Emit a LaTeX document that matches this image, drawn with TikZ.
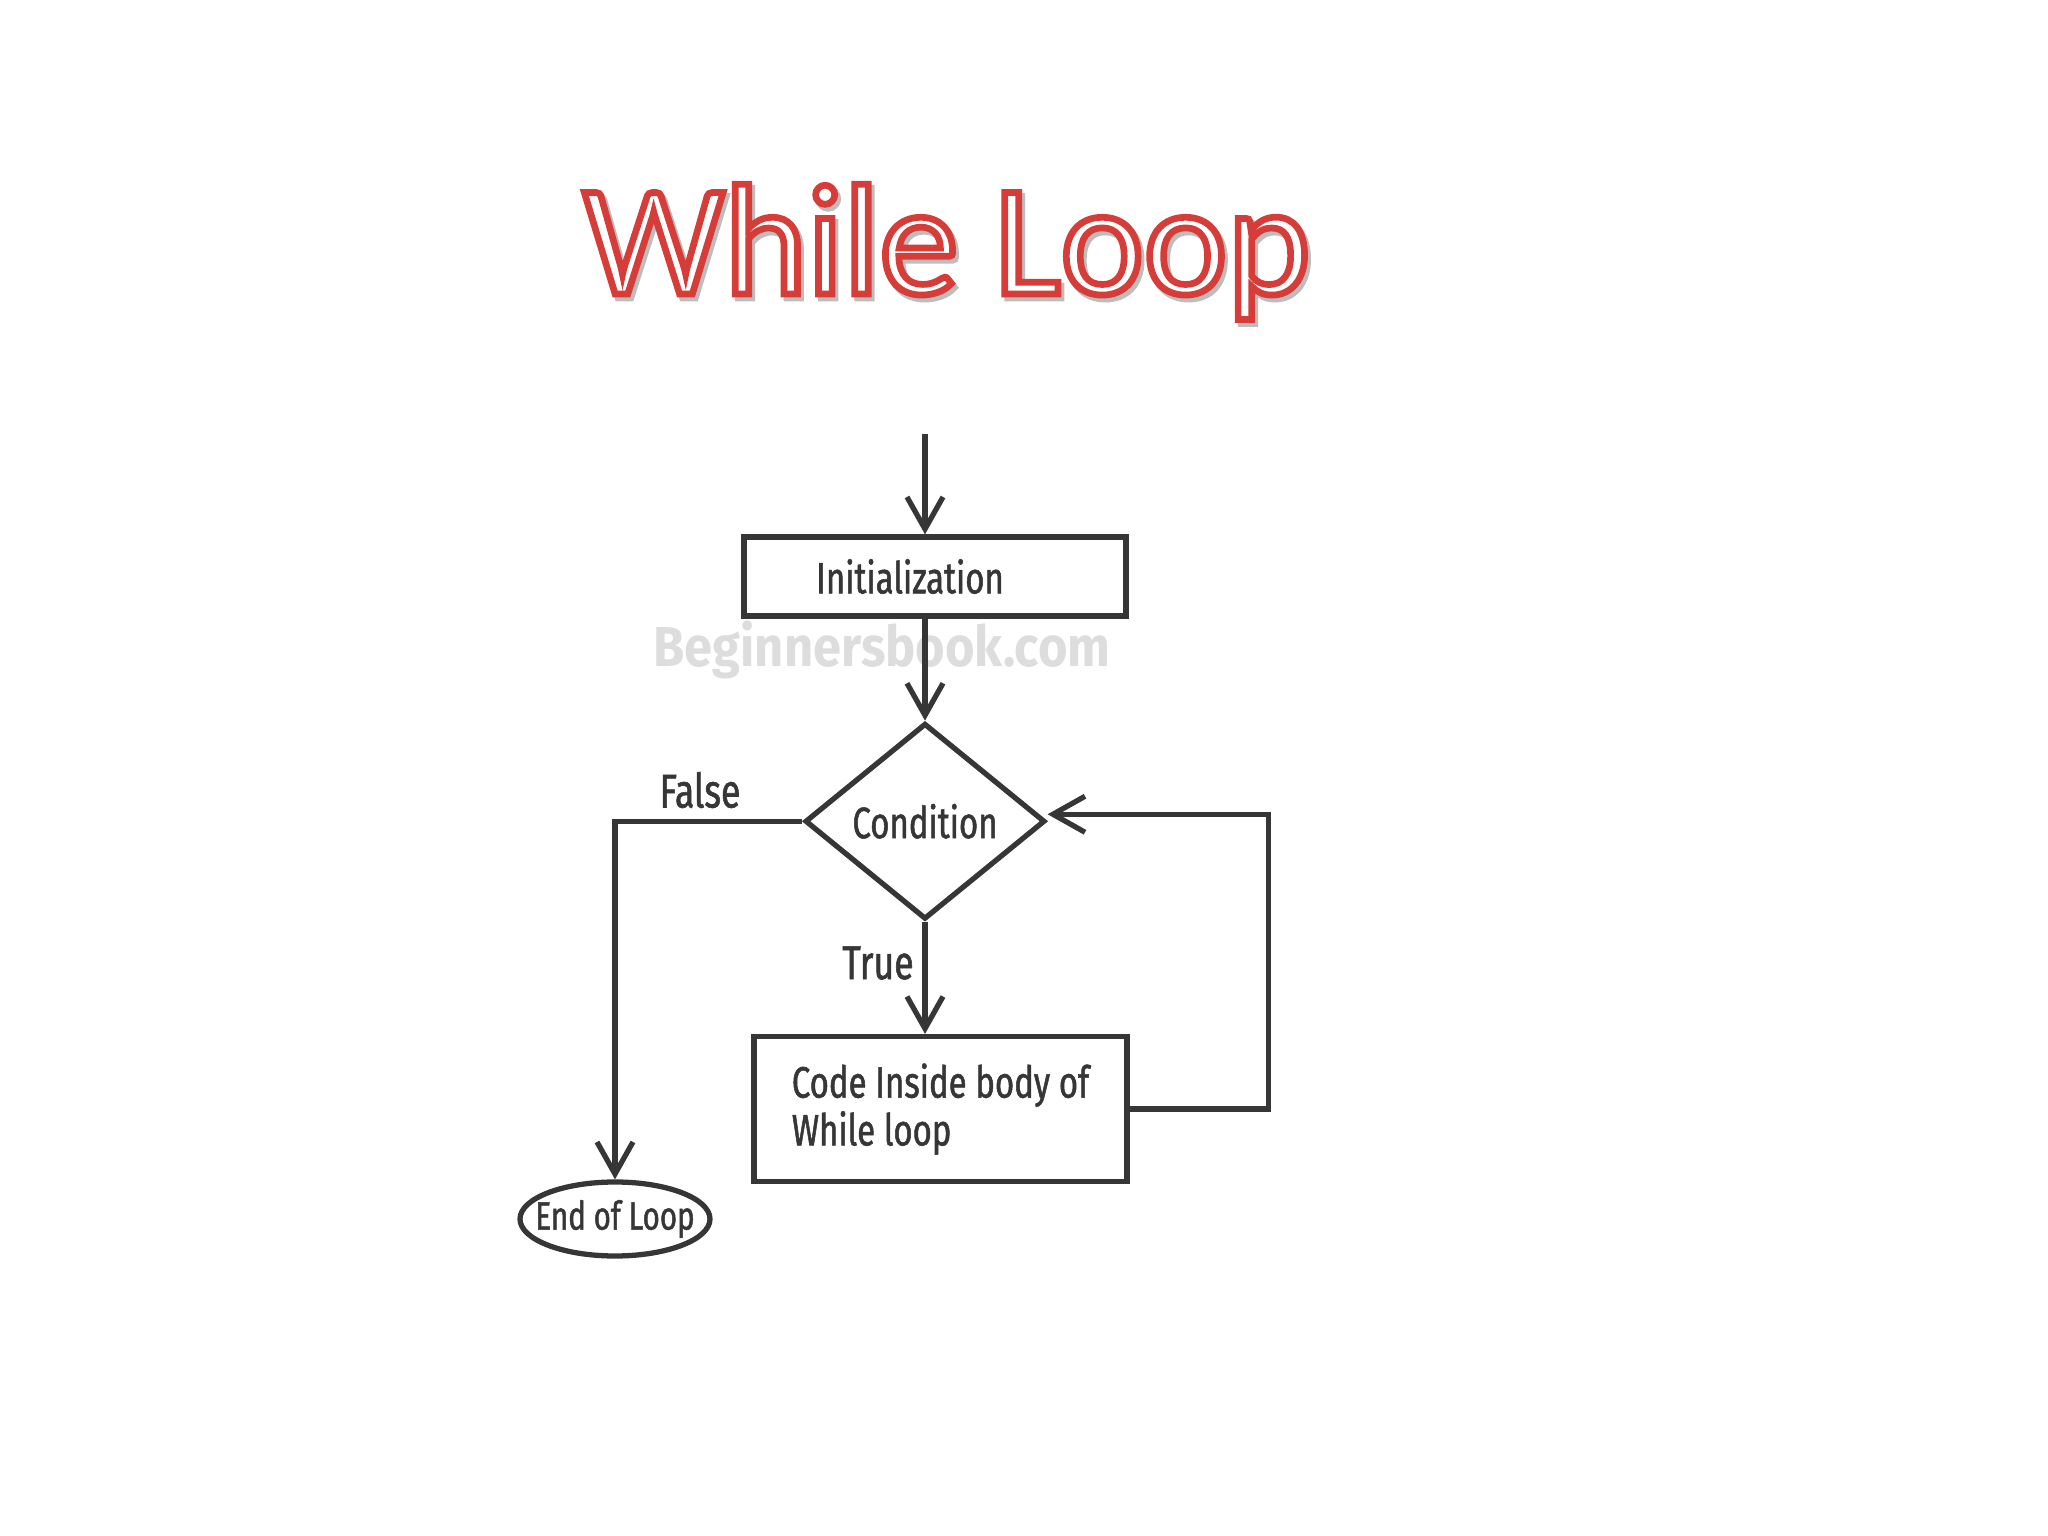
\documentclass[tikz,border=0pt]{standalone}
\usepackage{fontspec}
\setmainfont{Fira Sans}
\newfontfamily\titlefont{Carlito}
\newfontfamily\flowfont[FakeStretch=0.75,FakeBold=1.2]{Fira Sans}
\newfontfamily\markfont[FakeStretch=0.9]{Fira Sans}
\usepackage{xcolor}
\usetikzlibrary{arrows.meta,positioning,shapes.geometric}

\definecolor{ink}{HTML}{363636}
\definecolor{markgray}{HTML}{DDDDDD}

% stroked and filled glyphs (text rendering mode 2)
\newcommand{\outlined}[2]{%
    \special{pdf:literal direct 2 Tr 1.9 w #1 RG}#2\special{pdf:literal direct 0 Tr}}

\begin{document}
\begin{tikzpicture}[
    box/.style={
        draw=ink,
        line width=1.5pt,
        minimum width=3.82cm,
        minimum height=0.79cm,
        inner sep=0pt,
        text=ink,
        font=\flowfont\fontsize{12.5}{13.6}\selectfont
    },
    decision/.style={
        draw=ink,
        diamond,
        line width=1.5pt,
        minimum width=2.4cm,
        minimum height=1.96cm,
        inner sep=0pt,
        text=ink,
        font=\flowfont\fontsize{12.5}{13.6}\selectfont
    },
    terminal/.style={
        draw=ink,
        ellipse,
        line width=1.5pt,
        minimum width=1.9cm,
        minimum height=0.74cm,
        inner sep=0pt,
        text=ink,
        font=\flowfont\fontsize{11.2}{12}\selectfont
    },
    flow/.style={
        draw=ink,
        -{Straight Barb[length=3.2mm,width=3.6mm]},
        line width=1.5pt
    },
    branch/.style={
        text=ink,
        font=\flowfont\fontsize{13.5}{14}\selectfont
    }
]

\fill[white] (0,0) rectangle (20.48,-15.36);
\useasboundingbox (0,0) rectangle (20.48,-15.36);

%---------------------------------------------------------------------
% Title
%---------------------------------------------------------------------

\node[anchor=base, font=\titlefont\fontsize{45}{50}\selectfont] (titleshadow)
    at (9.50,-2.98) {\color{gray!35}\outlined{0.74 0.74 0.74}{While Loop}};
\node[anchor=base, font=\titlefont\fontsize{45}{50}\selectfont] (title)
    at (9.47,-2.94) {\color{white}\outlined{0.84 0.24 0.22}{While Loop}};

%---------------------------------------------------------------------
% Watermark
%---------------------------------------------------------------------

\node[text=markgray, font=\markfont\bfseries\fontsize{16}{18}\selectfont] (mark)
    at (8.82,-6.50) {Beginnersbook.com};

%---------------------------------------------------------------------
% Blocks
%---------------------------------------------------------------------

\coordinate (start) at (9.25,-4.34);

\node[box] (init) at (9.35,-5.765) {Initialization\hspace*{0.5cm}};

\node[decision, below=1.02cm of init, xshift=-1mm] (cond) {Condition};

\node[box, below=1.12cm of cond, xshift=1.55mm,
      minimum width=3.73cm, minimum height=1.45cm, align=left] (body)
    {Code Inside body of\\While loop};

\node[terminal] (end) at (6.15,-12.19) {\makebox[1.2cm]{End of Loop}};

%---------------------------------------------------------------------
% Connectors
%---------------------------------------------------------------------

\draw[flow] (start) -- (start |- init.north);
\draw[flow] (init.south -| cond.north) -- (cond.north);
\draw[flow] (cond.south) -- (cond.south |- body.north);
\draw[flow] (cond.west) -| (end.north);
\draw[flow] (body.east) -- ++(1.39,0) |- ([yshift=0.07cm]cond.east);

\node[branch] (lblfalse) at (7.00,-7.90) {False};
\node[branch] (lbltrue) at (8.78,-9.63) {True};

\end{tikzpicture}
\end{document}
